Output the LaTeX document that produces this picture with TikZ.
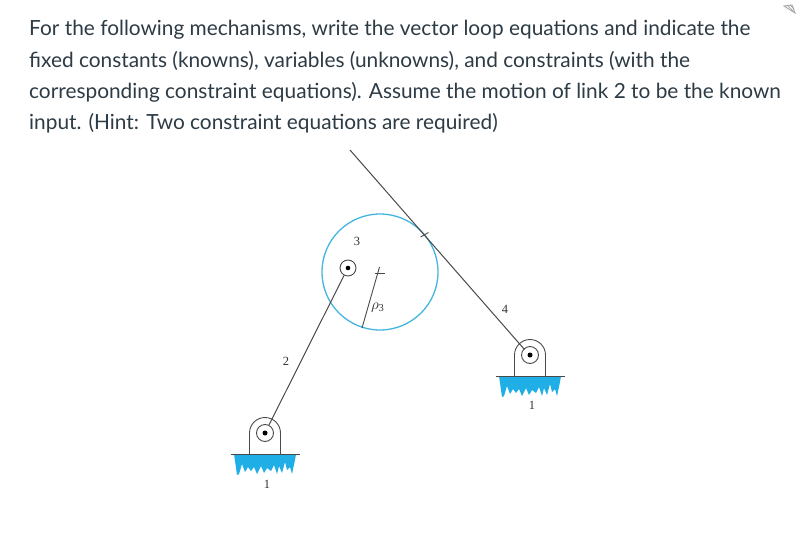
\documentclass[tikz,border=0pt]{standalone}
\usepackage{fontspec}
\setmainfont{Lato}
\newfontfamily\figfont{Liberation Serif}
\newfontfamily\mathsym{Latin Modern Math}
\definecolor{txt}{HTML}{2D3B45}
\definecolor{cyanb}{HTML}{1FAEE6}
\definecolor{circ}{HTML}{45B6E0}
\definecolor{lnk}{HTML}{4A4A4A}
\tikzset{
 para/.style={anchor=base west,inner sep=0pt,text=txt,font=\fontsize{20.84}{24}\selectfont},
 lab/.style={inner sep=0pt,text=black!80,font=\figfont\fontsize{12.5}{14}\selectfont},
 link/.style={draw=lnk,line width=1pt},
 thin part/.style={draw=lnk,line width=.9pt},
}
\newcommand{\groundpivot}[1]{%
 \begin{scope}[shift={(#1)}]
 \fill[cyanb] (-31,0) -- (31,0) -- (30,6) -- (27,20) -- (25,13) -- (22,16) -- (20,8) -- (17,19) -- (14,12) -- (12,20) -- (9,11) -- (6,17) -- (2,14) -- (-1,19) -- (-4,12) -- (-8,20) -- (-11,13) -- (-14,17) -- (-17,13) -- (-20,18) -- (-23,10) -- (-26,20) -- (-28,21) -- cycle;
 \draw[thin part] (-34.5,0) -- (34.5,0);
 \draw[thin part] (-15.5,0) -- (-15.5,-21) arc[start angle=180,end angle=360,radius=15.5] -- (15.5,0);
 \draw[thin part] (0,-21) circle[radius=8.5];
 \fill[black] (0,-21) circle[radius=2.5];
 \end{scope}}
\begin{document}
\begin{tikzpicture}[x=1pt,y=-1pt]
\useasboundingbox (0,0) rectangle (808,535);
\fill[white] (0,0) rectangle (808,535);
\node[para] (l1) at (29,36) {For the following mechanisms, write the vector loop equations and indicate the};
\node[para] (l2) at (29,67) {fixed constants (knowns), variables (unknowns), and constraints (with the};
\node[para] (l3) at (29,98) {corresponding constraint equations). Assume the motion of link 2 to be the known};
\node[para] (l4) at (29,129) {input. (Hint: Two constraint equations are required)};
% pencil icon
\draw[gray!70,line width=.9pt] (784,6) -- (792,5) -- (795,13) -- cycle;
\draw[gray!70,line width=.7pt] (787,5) -- (793,11) (790,5) -- (794,9);
% ground pivots
\coordinate (G2) at (265,454);
\coordinate (G4) at (530,376);
\groundpivot{G2}
\groundpivot{G4}
\coordinate (C) at (380,272);
\coordinate (P) at (348,268);
\coordinate (E) at (350,150);
% circle 3
\draw[circ,line width=1.3pt] (C) circle[radius=58];
% links
\draw[link] (269,425) -- (344,275.5);
\draw[link] (E) -- (524.5,349.5);
\draw[thin part] (P) circle[radius=8];
\fill[black] (P) circle[radius=2.3];
\draw[thin part] (420.5,237) -- (428.5,232.5);
\draw[thin part] (374.5,273) -- (385,273);
\draw[thin part] (379.5,267) -- (362,328);
\node[lab] (n3) at (357,241) {3};
\node[lab] (n2) at (286,361) {2};
\node[lab] (n4) at (505,309) {4};
\node[lab] (n1a) at (267,484) {1};
\node[lab] (n1b) at (532,405) {1};
\node[lab,anchor=west] (rho) at (371,308) {{\mathsym\fontsize{15}{16}\selectfont\symbol{"1D70C}}\kern-.3pt\raisebox{-2pt}{\fontsize{10.5}{11}\selectfont 3}};
\end{tikzpicture}
\end{document}
